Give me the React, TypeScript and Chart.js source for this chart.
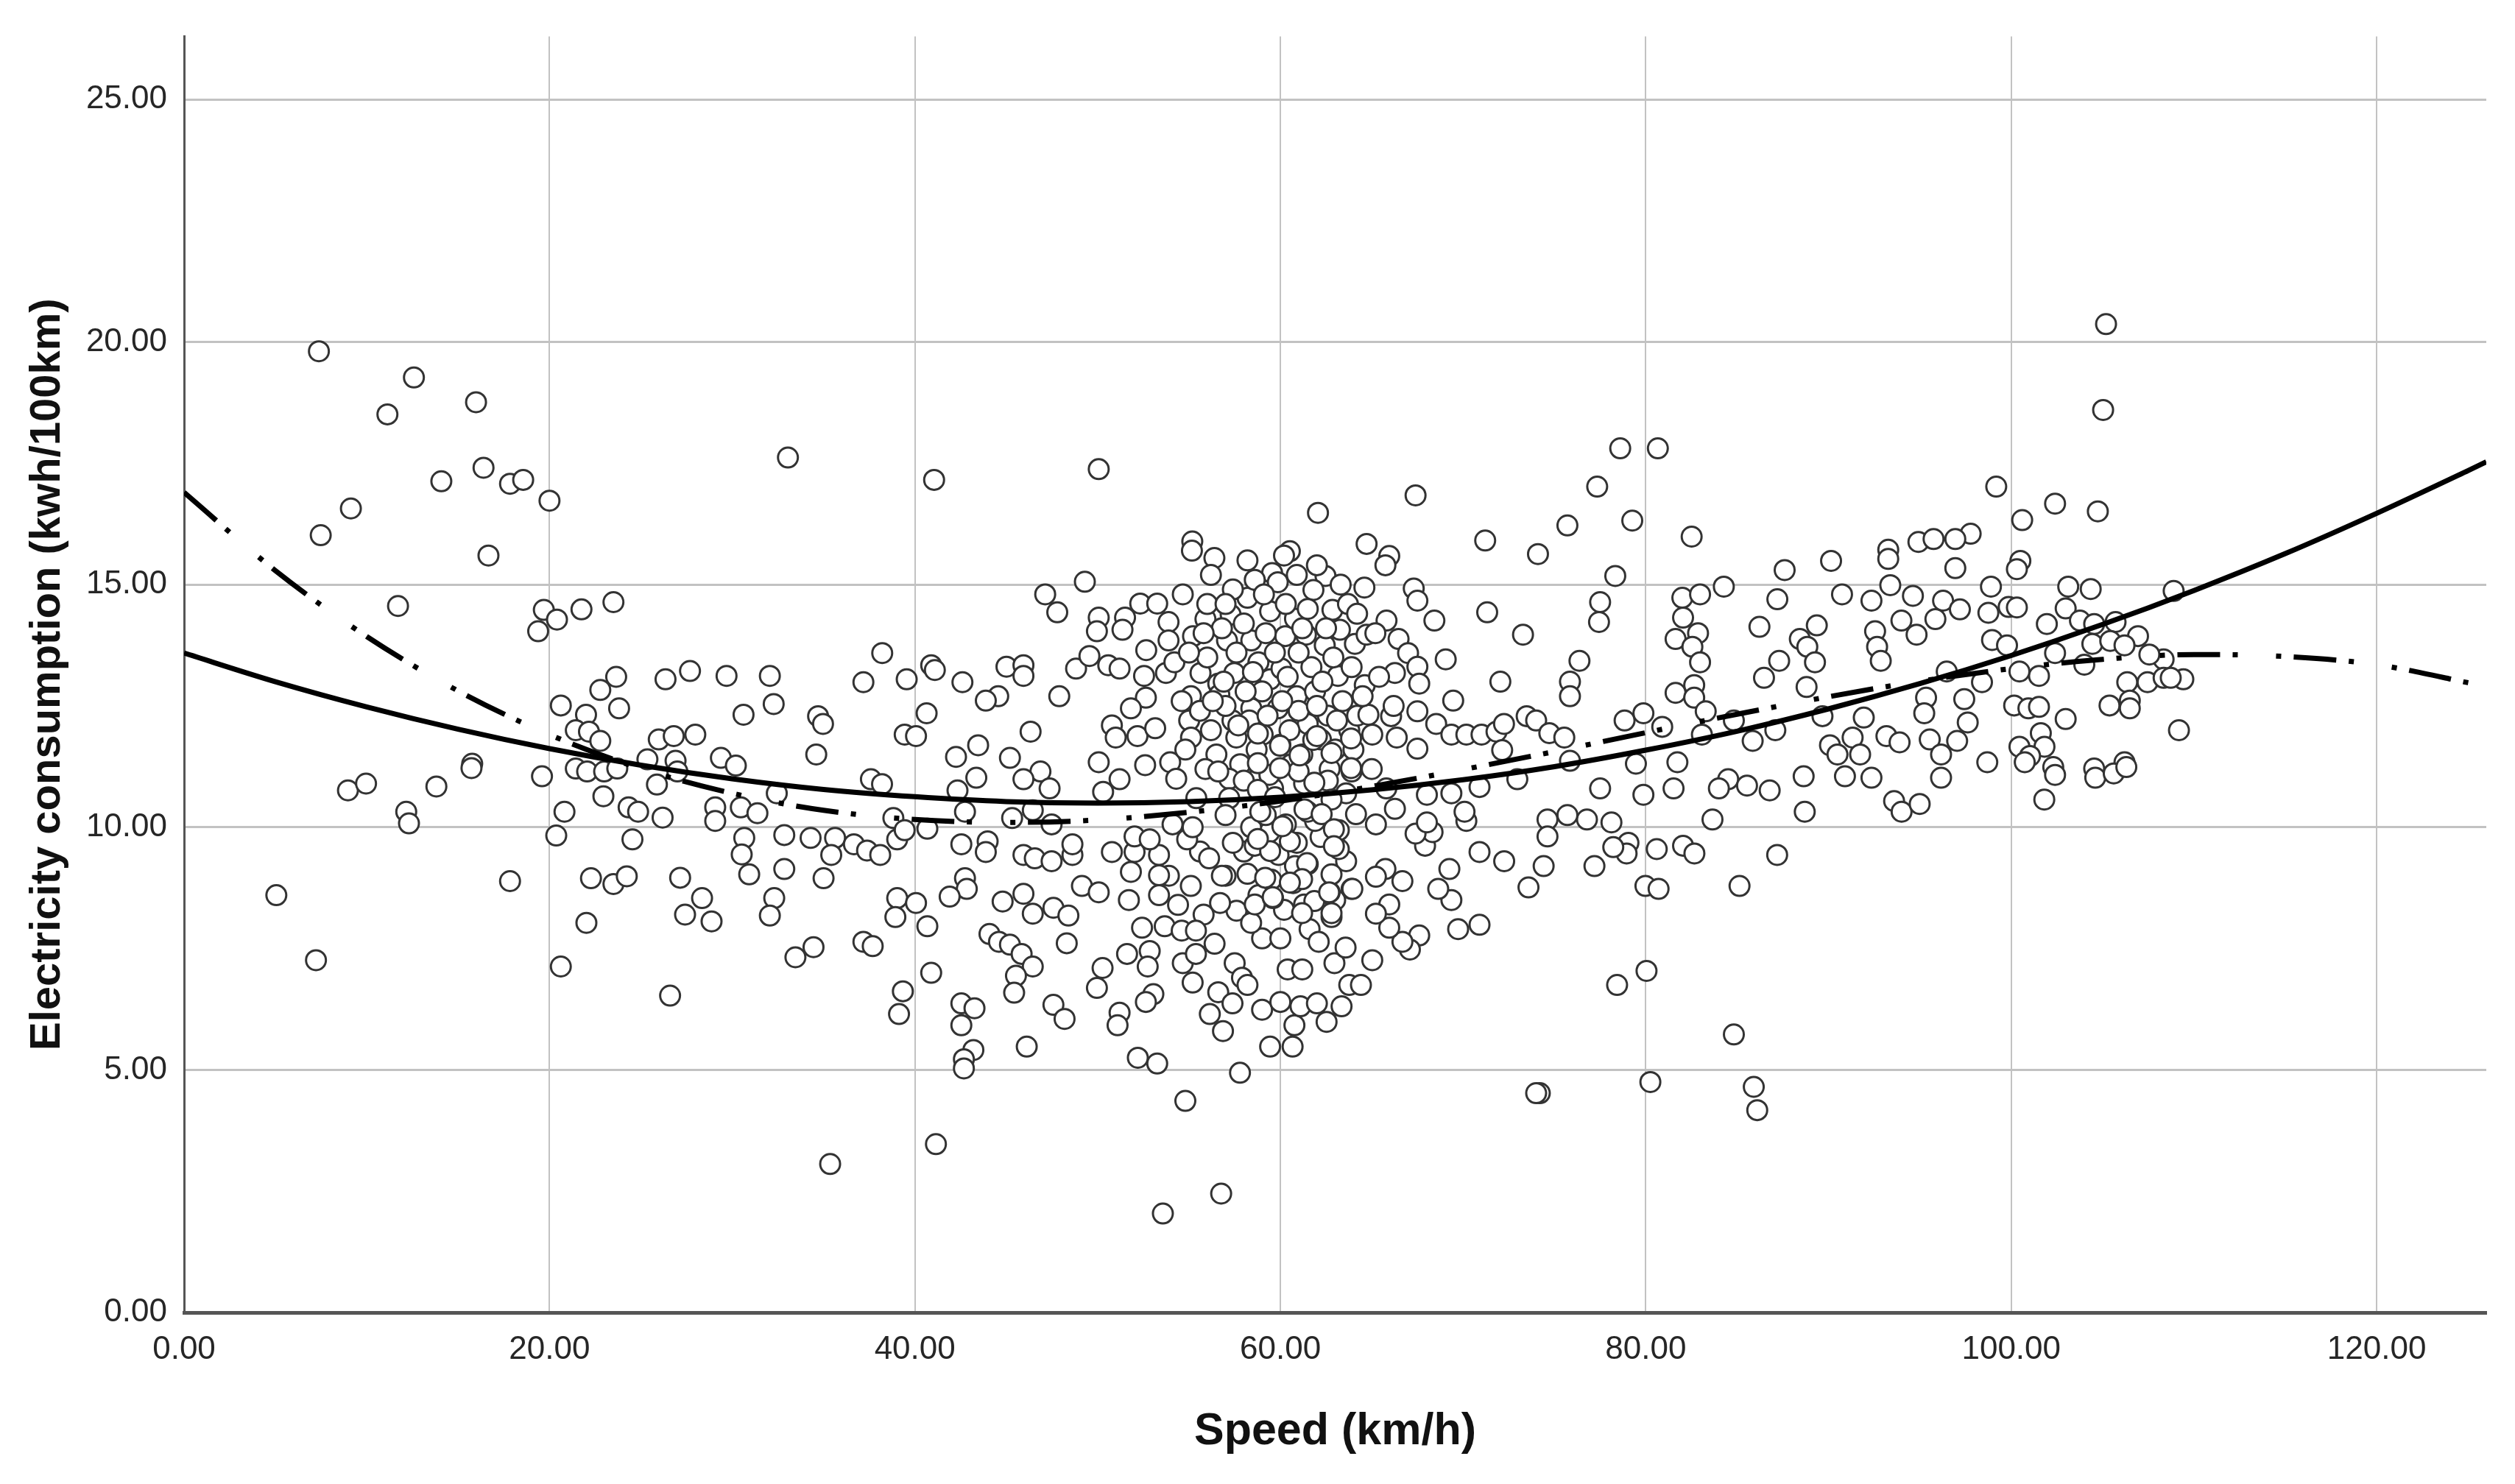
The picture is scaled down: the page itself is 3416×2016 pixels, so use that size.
import React, { useEffect, useRef } from "react";
import { Chart, registerables } from "chart.js";

Chart.register(...registerables);

const xTickValues = [0, 20, 40, 60, 80, 100, 120];
const yTickValues = [0, 5, 10, 15, 20, 25];

const xAxisTitle = "Speed (km/h)";
const yAxisTitle = "Electricity consumption (kwh/100km)";

// Fit curves at these speeds
const fitSpeeds = [0, 5, 10, 15, 20, 25, 30, 35, 40, 45, 50, 55, 60, 65, 70, 75, 80, 85, 90, 95, 100, 105, 110, 115, 120, 125, 126];
const quadraticFit = [13.59, 13.0, 12.48, 12.02, 11.62, 11.28, 11.0, 10.78, 10.63, 10.53, 10.5, 10.53, 10.62, 10.77, 10.98, 11.25, 11.59, 11.98, 12.44, 12.96, 13.54, 14.18, 14.88, 15.64, 16.47, 17.35, 17.53];
const cubicFit = [16.9, 15.29, 13.93, 12.81, 11.91, 11.21, 10.7, 10.35, 10.16, 10.1, 10.15, 10.31, 10.54, 10.84, 11.19, 11.56, 11.95, 12.33, 12.69, 13.01, 13.27, 13.46, 13.56, 13.52, 13.35, 12.98, 12.9];

// Observations [speed, consumption]
const lowSpeedObs: [number, number][] = [
  [7.38, 19.81], [12.58, 19.27], [11.13, 18.51], [15.98, 18.76], [16.39, 17.41], [14.08, 17.13], [17.84, 17.08], [18.56, 17.16],
  [20.0, 16.73], [9.13, 16.57], [7.48, 16.02], [16.66, 15.6], [11.71, 14.56], [19.69, 14.48], [20.41, 14.28], [19.38, 14.04],
  [21.75, 14.49], [23.5, 14.64], [23.65, 13.1], [22.78, 12.83], [26.35, 13.05], [27.69, 13.22], [29.69, 13.12], [32.06, 13.12],
  [20.62, 12.51], [23.81, 12.45], [22.0, 12.32], [30.62, 12.32], [21.44, 12.0], [22.16, 11.97], [22.78, 11.78], [25.98, 11.81],
  [26.8, 11.88], [27.98, 11.91], [32.27, 12.54], [15.77, 11.31], [25.36, 11.4], [26.9, 11.37], [29.38, 11.43], [30.2, 11.27],
  [8.97, 10.76], [9.96, 10.9], [13.81, 10.84], [15.73, 11.22], [12.16, 10.32], [12.31, 10.08], [5.05, 8.6], [7.22, 7.26],
  [17.84, 8.89], [19.59, 11.05], [20.82, 10.32], [20.37, 9.83], [20.62, 7.13], [22.27, 8.95], [23.5, 8.83], [24.23, 8.99],
  [22.02, 8.03], [22.95, 10.64], [24.33, 10.41], [24.85, 10.32], [24.54, 9.75], [26.19, 10.2], [25.88, 10.88], [27.15, 8.96],
  [28.35, 8.54], [27.42, 8.2], [28.87, 8.06], [26.6, 6.53], [29.07, 10.41], [29.07, 10.13], [30.47, 10.41], [31.38, 10.29],
  [30.66, 9.78], [30.52, 9.44], [30.93, 9.03], [32.3, 8.54], [32.06, 8.18], [21.44, 11.21], [22.06, 11.15], [22.99, 11.15],
  [23.71, 11.21], [27.0, 11.15],
];

const midSpeedObs: [number, number][] = [
  [33.05, 17.62], [41.05, 17.16], [50.06, 17.38], [62.06, 16.48], [55.18, 15.89], [55.16, 15.7], [56.39, 15.55], [60.52, 15.69],
  [49.3, 15.06], [47.13, 14.8], [47.79, 14.43], [54.66, 14.8], [59.55, 15.24], [59.86, 15.05], [62.47, 15.18], [58.2, 14.73],
  [61.81, 14.89], [50.06, 14.32], [51.5, 14.32], [52.33, 14.61], [53.26, 14.61], [53.88, 14.23], [55.9, 14.29], [49.96, 14.04],
  [51.36, 14.07], [57.28, 14.38], [59.44, 14.45], [62.85, 14.48], [52.66, 13.65], [53.88, 13.85], [55.22, 13.94], [57.08, 13.85],
  [58.41, 13.85], [60.27, 13.94], [61.4, 13.97], [62.43, 13.75], [63.26, 14.07], [64.08, 13.78], [38.21, 13.59], [37.18, 12.99],
  [39.55, 13.05], [40.89, 13.34], [41.09, 13.24], [42.6, 12.99], [45.01, 13.31], [45.94, 13.34], [45.94, 13.12], [44.56, 12.7],
  [43.88, 12.61], [47.9, 12.7], [48.82, 13.27], [49.55, 13.53], [50.58, 13.34], [51.2, 13.27], [52.54, 13.12], [53.74, 13.18],
  [55.63, 13.18], [56.6, 12.96], [57.48, 13.18], [59.44, 13.05], [60.06, 13.27], [63.15, 13.12], [52.64, 12.67], [51.82, 12.45],
  [55.11, 12.7], [56.66, 12.73], [60.89, 12.7], [58.41, 12.45], [59.86, 12.45], [34.7, 12.29], [34.97, 12.13], [40.64, 12.35],
  [39.44, 11.91], [40.06, 11.88], [34.6, 11.5], [43.46, 11.69], [42.25, 11.45], [45.2, 11.43], [46.33, 11.97], [50.78, 12.1],
  [50.99, 11.85], [52.18, 11.88], [53.15, 12.04], [55.01, 12.2], [55.11, 11.85], [57.38, 12.2], [57.59, 11.85], [59.03, 11.91],
  [61.5, 12.13], [62.22, 11.81], [63.77, 12.0], [50.06, 11.34], [53.97, 11.34], [52.6, 11.28],
  [56.0, 14.6], [56.8, 14.1], [57.6, 13.6], [58.0, 14.2], [58.8, 13.4], [59.2, 14.0], [59.0, 12.8], [59.7, 13.6],
  [60.4, 13.1], [60.8, 14.3], [61.0, 12.4], [61.7, 13.3], [61.9, 12.8], [62.6, 12.3], [62.9, 13.5], [63.4, 12.6],
  [63.9, 13.3], [64.2, 12.3], [58.3, 12.2], [57.0, 12.5], [56.2, 12.0], [58.7, 11.6], [60.0, 11.7], [60.5, 12.0],
  [61.2, 11.5], [62.0, 12.5], [63.0, 11.6], [57.8, 11.3], [56.5, 11.5], [55.6, 12.4], [54.6, 12.6], [54.2, 13.4],
  [56.0, 13.5], [60.3, 14.6], [61.5, 14.5], [63.7, 14.6], [58.6, 15.1], [57.4, 14.9], [62.0, 15.4], [60.9, 15.2],
  [54.3, 11.0], [54.8, 11.6], [55.4, 10.6], [55.9, 11.2], [56.3, 12.6], [56.9, 13.0], [57.2, 11.0], [57.7, 12.1],
  [58.1, 12.8], [58.5, 13.2], [58.9, 11.1], [59.3, 12.3], [59.6, 10.8], [60.1, 12.6], [60.6, 11.3], [61.0, 13.6],
  [61.3, 10.9], [61.8, 11.8], [62.3, 13.0], [62.7, 11.2], [63.1, 12.2], [63.6, 10.7], [64.0, 11.6], [55.0, 13.6],
  [55.8, 14.0], [57.0, 14.6], [58.2, 15.5], [59.1, 14.8], [60.2, 15.6], [61.2, 14.1], [62.5, 14.1], [63.3, 15.0],
  [64.2, 14.4], [56.2, 15.2],
  [55.8, 8.2], [56.4, 7.6], [57.0, 9.0], [57.5, 7.2], [58.0, 9.5], [58.8, 8.6], [59.4, 9.9], [60.2, 8.3],
  [60.8, 9.2], [61.6, 7.9], [62.2, 9.8], [63.0, 8.5], [63.6, 9.3], [56.6, 6.6], [57.9, 6.9], [55.6, 9.5],
  [54.4, 8.4], [53.9, 9.0], [55.2, 6.8], [57.2, 10.6],
  [32.44, 10.7], [32.85, 9.14], [33.46, 7.32], [34.45, 7.53], [32.85, 9.84], [34.29, 9.78], [35.63, 9.78], [35.42, 9.43],
  [35.0, 8.95], [36.66, 9.65], [37.38, 9.52], [38.1, 9.43], [38.82, 10.19], [39.03, 9.75], [39.44, 9.94], [40.68, 9.97],
  [37.59, 10.99], [38.2, 10.89], [37.18, 7.64], [37.69, 7.55], [39.03, 8.54], [40.06, 8.44], [38.93, 8.15], [40.68, 7.96],
  [40.89, 7.0], [39.34, 6.62], [39.13, 6.15], [35.36, 3.06], [41.15, 3.47], [42.33, 10.76], [43.36, 11.02], [42.74, 10.32],
  [42.54, 9.65], [43.98, 9.71], [43.88, 9.49], [42.74, 8.95], [42.84, 8.73], [41.9, 8.57], [42.54, 6.37], [43.26, 6.27],
  [42.54, 5.92], [43.2, 5.41], [42.68, 5.22], [42.68, 5.03], [44.8, 8.47], [45.94, 8.63], [46.45, 8.22], [47.58, 8.34],
  [48.4, 8.18], [44.08, 7.8], [44.6, 7.64], [45.2, 7.58], [45.84, 7.39], [46.45, 7.13], [45.53, 6.94], [45.43, 6.59],
  [48.31, 7.61], [47.58, 6.34], [48.19, 6.05], [46.12, 5.48], [45.32, 10.19], [46.45, 10.35], [47.48, 10.06], [46.87, 11.15],
  [45.94, 10.99], [47.37, 10.8], [45.94, 9.43], [46.56, 9.36], [47.48, 9.3], [48.62, 9.43], [48.62, 9.65], [49.14, 8.79],
  [50.06, 8.66], [50.27, 7.1], [49.96, 6.69], [51.2, 6.18], [51.09, 5.92], [52.2, 5.25], [53.26, 5.13], [54.8, 4.36],
  [57.79, 4.94], [53.57, 2.04], [56.76, 2.45], [50.78, 9.49], [52.02, 9.49], [51.82, 9.08], [51.71, 8.5], [53.36, 9.43],
  [53.36, 9.01], [53.36, 8.6], [52.02, 9.81], [52.85, 9.75], [51.61, 7.39], [52.85, 7.45], [52.74, 7.13], [53.05, 6.56],
  [52.64, 6.4], [54.66, 7.2], [55.38, 7.39], [52.43, 7.93], [53.67, 7.96], [54.6, 7.87], [55.38, 7.87], [56.14, 6.15],
  [56.86, 5.8], [57.38, 6.37], [58.2, 6.75], [59.44, 5.48], [60.77, 5.92], [60.67, 5.48], [59.0, 6.24], [60.0, 6.4],
  [61.1, 6.31], [62.0, 6.37], [62.53, 5.99], [63.35, 6.31], [63.77, 6.75], [62.96, 7.2], [63.57, 7.52], [60.4, 7.07],
  [61.2, 7.07], [62.1, 7.64], [59.0, 7.71], [60.0, 7.71], [57.6, 8.28], [58.4, 8.03], [56.7, 8.44], [58.6, 8.41],
  [59.6, 8.54], [61.3, 8.41], [62.8, 8.15], [62.7, 8.66], [63.9, 8.73], [56.8, 9.0], [58.2, 9.04], [59.5, 8.92],
  [61.5, 9.24], [60.7, 8.85], [55.1, 8.79], [54.9, 9.75], [56.1, 9.36], [57.4, 9.68], [58.6, 9.62], [59.9, 9.43],
  [60.9, 9.68], [63.2, 9.55], [63.2, 9.94], [61.9, 10.13], [60.3, 10.06], [58.4, 10.0], [57.0, 10.25], [55.2, 10.0],
  [54.1, 10.06], [59.2, 10.25], [61.5, 10.32], [56.6, 11.15], [58.0, 10.96], [59.4, 11.08], [61.0, 11.15], [62.6, 10.96],
  [63.9, 11.15], [50.3, 10.73], [51.2, 10.99],
  [58.77, 11.93], [59.98, 11.68], [62.0, 11.88], [63.87, 11.22], [59.98, 11.22], [61.05, 11.48], [62.8, 11.53], [63.87, 11.83],
  [61.86, 10.92], [58.77, 10.77], [59.71, 10.62], [62.8, 10.57], [58.77, 11.32], [58.9, 10.32], [61.32, 10.37], [62.26, 10.27],
  [64.14, 10.27], [62.93, 9.96], [62.93, 9.61], [60.52, 9.71], [59.44, 9.51], [58.77, 9.76], [60.11, 10.02], [61.46, 9.26],
  [62.8, 9.03], [59.17, 8.96], [61.19, 8.93], [60.52, 8.86], [63.94, 8.73], [59.58, 8.56], [61.86, 8.48], [62.67, 8.66],
  [61.19, 8.23], [62.8, 8.23],
];

const highSpeedObs: [number, number][] = [
  [78.6, 17.81], [80.66, 17.81], [77.34, 17.02], [79.26, 16.32], [75.71, 16.22], [67.4, 16.84], [71.21, 15.91], [74.1, 15.63],
  [82.51, 15.99], [64.72, 15.84], [65.96, 15.59], [65.75, 15.4], [64.6, 14.94], [78.33, 15.18], [67.3, 14.92], [67.5, 14.67],
  [68.43, 14.26], [71.32, 14.43], [73.28, 13.97], [77.5, 14.64], [77.44, 14.23], [82.0, 14.73], [82.97, 14.8], [84.27, 14.96],
  [82.04, 14.32], [81.63, 13.88], [82.86, 14.0], [82.55, 13.72], [82.97, 13.4], [87.6, 15.3], [90.14, 15.49], [87.2, 14.7],
  [90.74, 14.8], [86.22, 14.13], [89.36, 14.16], [88.43, 13.88], [88.84, 13.72], [89.26, 13.4], [87.3, 13.43], [86.47, 13.08],
  [88.8, 12.89], [93.27, 15.72], [93.27, 15.53], [94.92, 15.88], [95.75, 15.94], [93.38, 14.99], [92.35, 14.67], [94.62, 14.77],
  [96.27, 14.67], [93.99, 14.26], [94.82, 13.97], [95.85, 14.29], [92.55, 14.04], [92.66, 13.72], [92.86, 13.43], [64.72, 13.97],
  [65.81, 14.26], [66.47, 13.88], [66.99, 13.59], [67.5, 13.31], [66.27, 13.18], [67.6, 12.96], [69.05, 13.46], [64.62, 12.93],
  [69.46, 12.61], [72.04, 13.0], [76.37, 13.43], [75.85, 13.0], [75.85, 12.7], [64.82, 12.32], [66.06, 12.29], [67.5, 12.39],
  [68.53, 12.13], [65.03, 11.91], [66.37, 11.85], [67.5, 11.62], [69.36, 11.91], [70.18, 11.91], [71.01, 11.91], [71.83, 11.97],
  [72.24, 12.13], [73.48, 12.29], [74.0, 12.2], [74.72, 11.94], [75.54, 11.85], [72.14, 11.59], [78.84, 12.2], [79.87, 12.35],
  [80.9, 12.07], [81.63, 12.77], [82.65, 12.93], [82.65, 12.67], [83.28, 12.39], [83.07, 11.91], [84.82, 12.2], [85.85, 11.78],
  [87.09, 12.0], [89.67, 12.29], [91.93, 12.26], [90.08, 11.69], [91.32, 11.85], [93.17, 11.88], [93.89, 11.75], [95.34, 12.67],
  [95.24, 12.35], [95.54, 11.81], [96.47, 13.21], [90.49, 11.5], [91.73, 11.5], [96.16, 11.5], [81.73, 11.34], [75.85, 11.37],
  [79.46, 11.31], [64.5, 12.7], [65.4, 13.1], [65.8, 10.8], [66.2, 12.5], [65.2, 14.0], [65.0, 11.2],
  [79.87, 10.67], [81.52, 10.8], [77.5, 10.8], [84.51, 10.99], [84.0, 10.8], [85.54, 10.86], [86.78, 10.76], [88.64, 11.05],
  [88.7, 10.32], [90.9, 11.05], [92.35, 11.02], [93.59, 10.54], [94.0, 10.32], [94.99, 10.48], [96.16, 11.02], [83.65, 10.16],
  [87.19, 9.43], [85.13, 8.79], [80.6, 9.55], [82.04, 9.62], [82.66, 9.46], [79.98, 8.79], [80.7, 8.73], [79.05, 9.68],
  [78.95, 9.46], [78.12, 10.1], [78.22, 9.59], [76.78, 10.16], [75.71, 10.25], [74.62, 10.16], [74.62, 9.81], [77.19, 9.2],
  [74.41, 9.2], [73.58, 8.76], [72.25, 9.3], [70.9, 9.49], [70.18, 10.13], [70.08, 10.32], [69.25, 9.14], [69.36, 8.5],
  [68.64, 8.73], [70.9, 7.99], [69.73, 7.9], [67.6, 7.77], [67.09, 7.48], [66.68, 7.64], [65.96, 7.93], [65.96, 8.41],
  [65.23, 8.22], [65.03, 7.26], [66.68, 8.89], [65.75, 9.14], [65.23, 8.98], [67.92, 9.62], [68.33, 9.9], [67.4, 9.87],
  [68.02, 10.1], [65.23, 10.06], [66.27, 10.38], [68.02, 10.67], [69.36, 10.7], [70.9, 10.83], [72.97, 10.99], [80.04, 7.04],
  [78.43, 6.75], [84.82, 5.73], [80.25, 4.75], [74.2, 4.52], [74.0, 4.52], [85.91, 4.65], [86.1, 4.17], [64.41, 6.75],
];

const topSpeedObs: [number, number][] = [
  [105.19, 20.37], [105.03, 18.6], [99.18, 17.02], [102.4, 16.67], [104.74, 16.51], [100.6, 16.33], [97.78, 16.05], [96.94, 15.94],
  [100.5, 15.49], [100.31, 15.32], [96.94, 15.34], [98.89, 14.96], [103.12, 14.96], [104.35, 14.91], [108.89, 14.87], [97.19, 14.49],
  [98.75, 14.42], [99.86, 14.54], [100.31, 14.53], [102.98, 14.51], [101.95, 14.19], [103.76, 14.26], [104.54, 14.19], [105.71, 14.23],
  [106.94, 13.94], [98.95, 13.86], [99.77, 13.75], [102.4, 13.59], [104.44, 13.78], [105.42, 13.84], [106.2, 13.75], [108.34, 13.46],
  [107.56, 13.56], [104.0, 13.35], [101.52, 13.12], [100.45, 13.21], [98.4, 12.99], [97.43, 12.64], [106.35, 12.99], [107.46, 12.99],
  [108.34, 13.08], [109.42, 13.05], [108.73, 13.08], [100.16, 12.51], [100.94, 12.45], [101.52, 12.48], [105.38, 12.51], [106.49, 12.61],
  [106.49, 12.45], [97.62, 12.16], [102.98, 12.23], [109.18, 12.0], [97.04, 11.78], [101.62, 11.94], [100.45, 11.66], [101.82, 11.66],
  [101.03, 11.47], [98.69, 11.34], [106.2, 11.34], [102.3, 11.24], [104.54, 11.21], [100.74, 11.34], [102.4, 11.08], [101.81, 10.57],
  [104.6, 11.02], [105.61, 11.11], [106.3, 11.24],
];

const TICK_FONT = "'Liberation Sans', Arial, sans-serif";
const TITLE_FONT = "'Liberation Sans', Arial, sans-serif";

export default function App() {
  const ref = useRef<HTMLCanvasElement | null>(null);

  useEffect(() => {
    if (!ref.current) return;
    const observations = [...lowSpeedObs, ...midSpeedObs, ...highSpeedObs, ...topSpeedObs];
    const chart = new Chart(ref.current, {
      type: "scatter",
      data: {
        datasets: [
          {
            label: "Quadratic",
            data: fitSpeeds.map((x, i) => ({ x, y: quadraticFit[i] })),
            showLine: true,
            borderColor: "#000000",
            borderWidth: 7,
            pointRadius: 0,
            cubicInterpolationMode: "monotone",
            fill: false,
            order: 0,
          } as any,
          {
            label: "Cubic",
            data: fitSpeeds.map((x, i) => ({ x, y: cubicFit[i] })),
            showLine: true,
            borderColor: "#000000",
            borderWidth: 7,
            borderDash: [58, 17, 7, 52, 7, 17],
            borderCapStyle: "butt",
            pointRadius: 0,
            cubicInterpolationMode: "monotone",
            fill: false,
            order: 1,
          } as any,
          {
            label: "Observed",
            data: observations.map(([x, y]) => ({ x, y })),
            showLine: false,
            pointRadius: 13.5,
            pointBorderWidth: 3,
            pointBorderColor: "#333333",
            pointBackgroundColor: "#ffffff",
            pointStyle: "circle",
            order: 2,
          } as any,
        ],
      },
      options: {
        responsive: false,
        maintainAspectRatio: false,
        animation: false,
        devicePixelRatio: 1,
        layout: { padding: { top: 39, right: 39, left: 0, bottom: 0 } },
        plugins: {
          legend: { display: false },
          tooltip: { enabled: false },
        },
        scales: {
          x: {
            type: "linear",
            min: 0,
            max: 126,
            afterBuildTicks: (s: any) => {
              s.ticks = xTickValues.map((v) => ({ value: v }));
            },
            afterFit: (s: any) => {
              s.height = 233;
            },
            ticks: {
              callback: (v: any) => Number(v).toFixed(2),
              font: { family: TICK_FONT, size: 44 },
              color: "#262626",
              padding: 24,
              maxRotation: 0,
              autoSkip: false,
            },
            grid: { color: "#c2c2c2", lineWidth: 2, drawTicks: false },
            border: { display: true, color: "#555555", width: 5 },
            title: {
              display: true,
              text: xAxisTitle,
              color: "#111111",
              font: { family: TITLE_FONT, size: 61, weight: "bold" },
              padding: { top: 0, bottom: 34 },
            },
          },
          y: {
            type: "linear",
            min: 0,
            max: 26.3,
            afterBuildTicks: (s: any) => {
              s.ticks = yTickValues.map((v) => ({ value: v }));
            },
            afterFit: (s: any) => {
              s.width = 250;
            },
            ticks: {
              callback: (v: any) => Number(v).toFixed(2),
              font: { family: TICK_FONT, size: 44 },
              color: "#262626",
              padding: 23,
              autoSkip: false,
            },
            grid: { color: "#c2c2c2", lineWidth: 3, drawTicks: false },
            border: { display: true, color: "#555555", width: 3 },
            title: {
              display: true,
              text: yAxisTitle,
              color: "#111111",
              font: { family: TITLE_FONT, size: 58, weight: "bold" },
              padding: { top: 30, bottom: 0 },
            },
          },
        },
      } as any,
    });
    return () => chart.destroy();
  }, []);

  return (
    <div style={{ position: "fixed", left: 0, top: 0, width: 3416, height: 2016, background: "#ffffff" }}>
      <canvas ref={ref} width={3416} height={2016} style={{ width: 3416, height: 2016, display: "block" }} />
    </div>
  );
}
